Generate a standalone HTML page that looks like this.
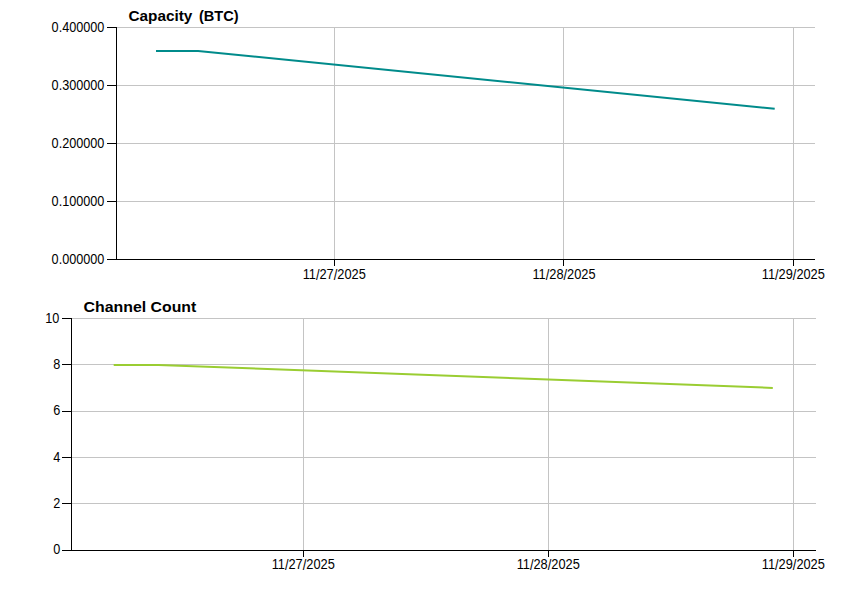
<!DOCTYPE html>
<html>
<head>
<meta charset="utf-8">
<title>Charts</title>
<style>
html,body{margin:0;padding:0;background:#fff;}
body{width:860px;height:600px;overflow:hidden;}
svg{display:block;}
.t{font-family:"Liberation Sans", sans-serif;font-size:14px;fill:#000;}
.h{font-family:"Liberation Sans", sans-serif;font-size:15.5px;font-weight:bold;fill:#000;}
</style>
</head>
<body>
<svg width="860" height="600" viewBox="0 0 860 600">
<rect width="860" height="600" fill="#fff"/>
<rect x="117" y="27" width="698" height="1" fill="#c4c4c4"/>
<rect x="117" y="85" width="698" height="1" fill="#c4c4c4"/>
<rect x="117" y="143" width="698" height="1" fill="#c4c4c4"/>
<rect x="117" y="201" width="698" height="1" fill="#c4c4c4"/>
<rect x="334" y="27" width="1" height="232" fill="#c4c4c4"/>
<rect x="563" y="27" width="1" height="232" fill="#c4c4c4"/>
<rect x="793" y="27" width="1" height="232" fill="#c4c4c4"/>
<polyline points="156,51 198.1,51 774.7,108.8" fill="none" stroke="#008b8b" stroke-width="2" stroke-linejoin="round"/>
<rect x="116" y="27" width="1" height="233" fill="#000"/>
<rect x="116" y="259" width="699" height="1" fill="#000"/>
<rect x="107" y="27" width="9" height="1" fill="#000"/>
<text class="t" text-anchor="end" transform="translate(104.4,31.9) scale(0.905,1)">0.400000</text>
<rect x="107" y="85" width="9" height="1" fill="#000"/>
<text class="t" text-anchor="end" transform="translate(104.4,89.9) scale(0.905,1)">0.300000</text>
<rect x="107" y="143" width="9" height="1" fill="#000"/>
<text class="t" text-anchor="end" transform="translate(104.4,147.9) scale(0.905,1)">0.200000</text>
<rect x="107" y="201" width="9" height="1" fill="#000"/>
<text class="t" text-anchor="end" transform="translate(104.4,205.9) scale(0.905,1)">0.100000</text>
<rect x="107" y="259" width="9" height="1" fill="#000"/>
<text class="t" text-anchor="end" transform="translate(104.4,263.9) scale(0.905,1)">0.000000</text>
<rect x="334" y="260" width="1" height="6" fill="#000"/>
<text class="t" text-anchor="middle" transform="translate(334.2,278.6) scale(0.915,1)">11<tspan dy="1.8">/</tspan><tspan dy="-1.8">27</tspan><tspan dy="1.8">/</tspan><tspan dy="-1.8">2025</tspan></text>
<rect x="563" y="260" width="1" height="6" fill="#000"/>
<text class="t" text-anchor="middle" transform="translate(564.0,278.6) scale(0.915,1)">11<tspan dy="1.8">/</tspan><tspan dy="-1.8">28</tspan><tspan dy="1.8">/</tspan><tspan dy="-1.8">2025</tspan></text>
<rect x="793" y="260" width="1" height="6" fill="#000"/>
<text class="t" text-anchor="middle" transform="translate(793.3,278.6) scale(0.915,1)">11<tspan dy="1.8">/</tspan><tspan dy="-1.8">29</tspan><tspan dy="1.8">/</tspan><tspan dy="-1.8">2025</tspan></text>
<text class="h" transform="translate(128.5,21.0) scale(0.99,1)">Capacity</text>
<text class="h" transform="translate(199.0,21.0) scale(0.94,1)">(BTC)</text>
<rect x="72" y="318" width="744" height="1" fill="#c4c4c4"/>
<rect x="72" y="364" width="744" height="1" fill="#c4c4c4"/>
<rect x="72" y="411" width="744" height="1" fill="#c4c4c4"/>
<rect x="72" y="457" width="744" height="1" fill="#c4c4c4"/>
<rect x="72" y="503" width="744" height="1" fill="#c4c4c4"/>
<rect x="303" y="318" width="1" height="232" fill="#c4c4c4"/>
<rect x="548" y="318" width="1" height="232" fill="#c4c4c4"/>
<rect x="793" y="318" width="1" height="232" fill="#c4c4c4"/>
<polyline points="113.7,364.9 158.4,364.9 772.8,387.9" fill="none" stroke="#9acd32" stroke-width="2" stroke-linejoin="round"/>
<rect x="71" y="318" width="1" height="233" fill="#000"/>
<rect x="71" y="550" width="745" height="1" fill="#000"/>
<rect x="62" y="318" width="9" height="1" fill="#000"/>
<text class="t" text-anchor="end" transform="translate(59.4,322.9) scale(0.905,1)">10</text>
<rect x="62" y="364" width="9" height="1" fill="#000"/>
<text class="t" text-anchor="end" transform="translate(60.4,368.9) scale(0.905,1)">8</text>
<rect x="62" y="411" width="9" height="1" fill="#000"/>
<text class="t" text-anchor="end" transform="translate(60.4,414.9) scale(0.905,1)">6</text>
<rect x="62" y="457" width="9" height="1" fill="#000"/>
<text class="t" text-anchor="end" transform="translate(60.4,461.9) scale(0.905,1)">4</text>
<rect x="62" y="503" width="9" height="1" fill="#000"/>
<text class="t" text-anchor="end" transform="translate(60.4,507.9) scale(0.905,1)">2</text>
<rect x="62" y="550" width="9" height="1" fill="#000"/>
<text class="t" text-anchor="end" transform="translate(60.4,553.9) scale(0.905,1)">0</text>
<rect x="303" y="551" width="1" height="6" fill="#000"/>
<text class="t" text-anchor="middle" transform="translate(303.2,568.6) scale(0.915,1)">11<tspan dy="1.8">/</tspan><tspan dy="-1.8">27</tspan><tspan dy="1.8">/</tspan><tspan dy="-1.8">2025</tspan></text>
<rect x="548" y="551" width="1" height="6" fill="#000"/>
<text class="t" text-anchor="middle" transform="translate(548.2,568.6) scale(0.915,1)">11<tspan dy="1.8">/</tspan><tspan dy="-1.8">28</tspan><tspan dy="1.8">/</tspan><tspan dy="-1.8">2025</tspan></text>
<rect x="793" y="551" width="1" height="6" fill="#000"/>
<text class="t" text-anchor="middle" transform="translate(793.3,568.6) scale(0.915,1)">11<tspan dy="1.8">/</tspan><tspan dy="-1.8">29</tspan><tspan dy="1.8">/</tspan><tspan dy="-1.8">2025</tspan></text>
<text class="h" transform="translate(83.6,312.0) scale(1.025,1)">Channel</text>
<text class="h" transform="translate(150.6,312.0) scale(1.02,1)">Count</text>
</svg>
</body>
</html>
